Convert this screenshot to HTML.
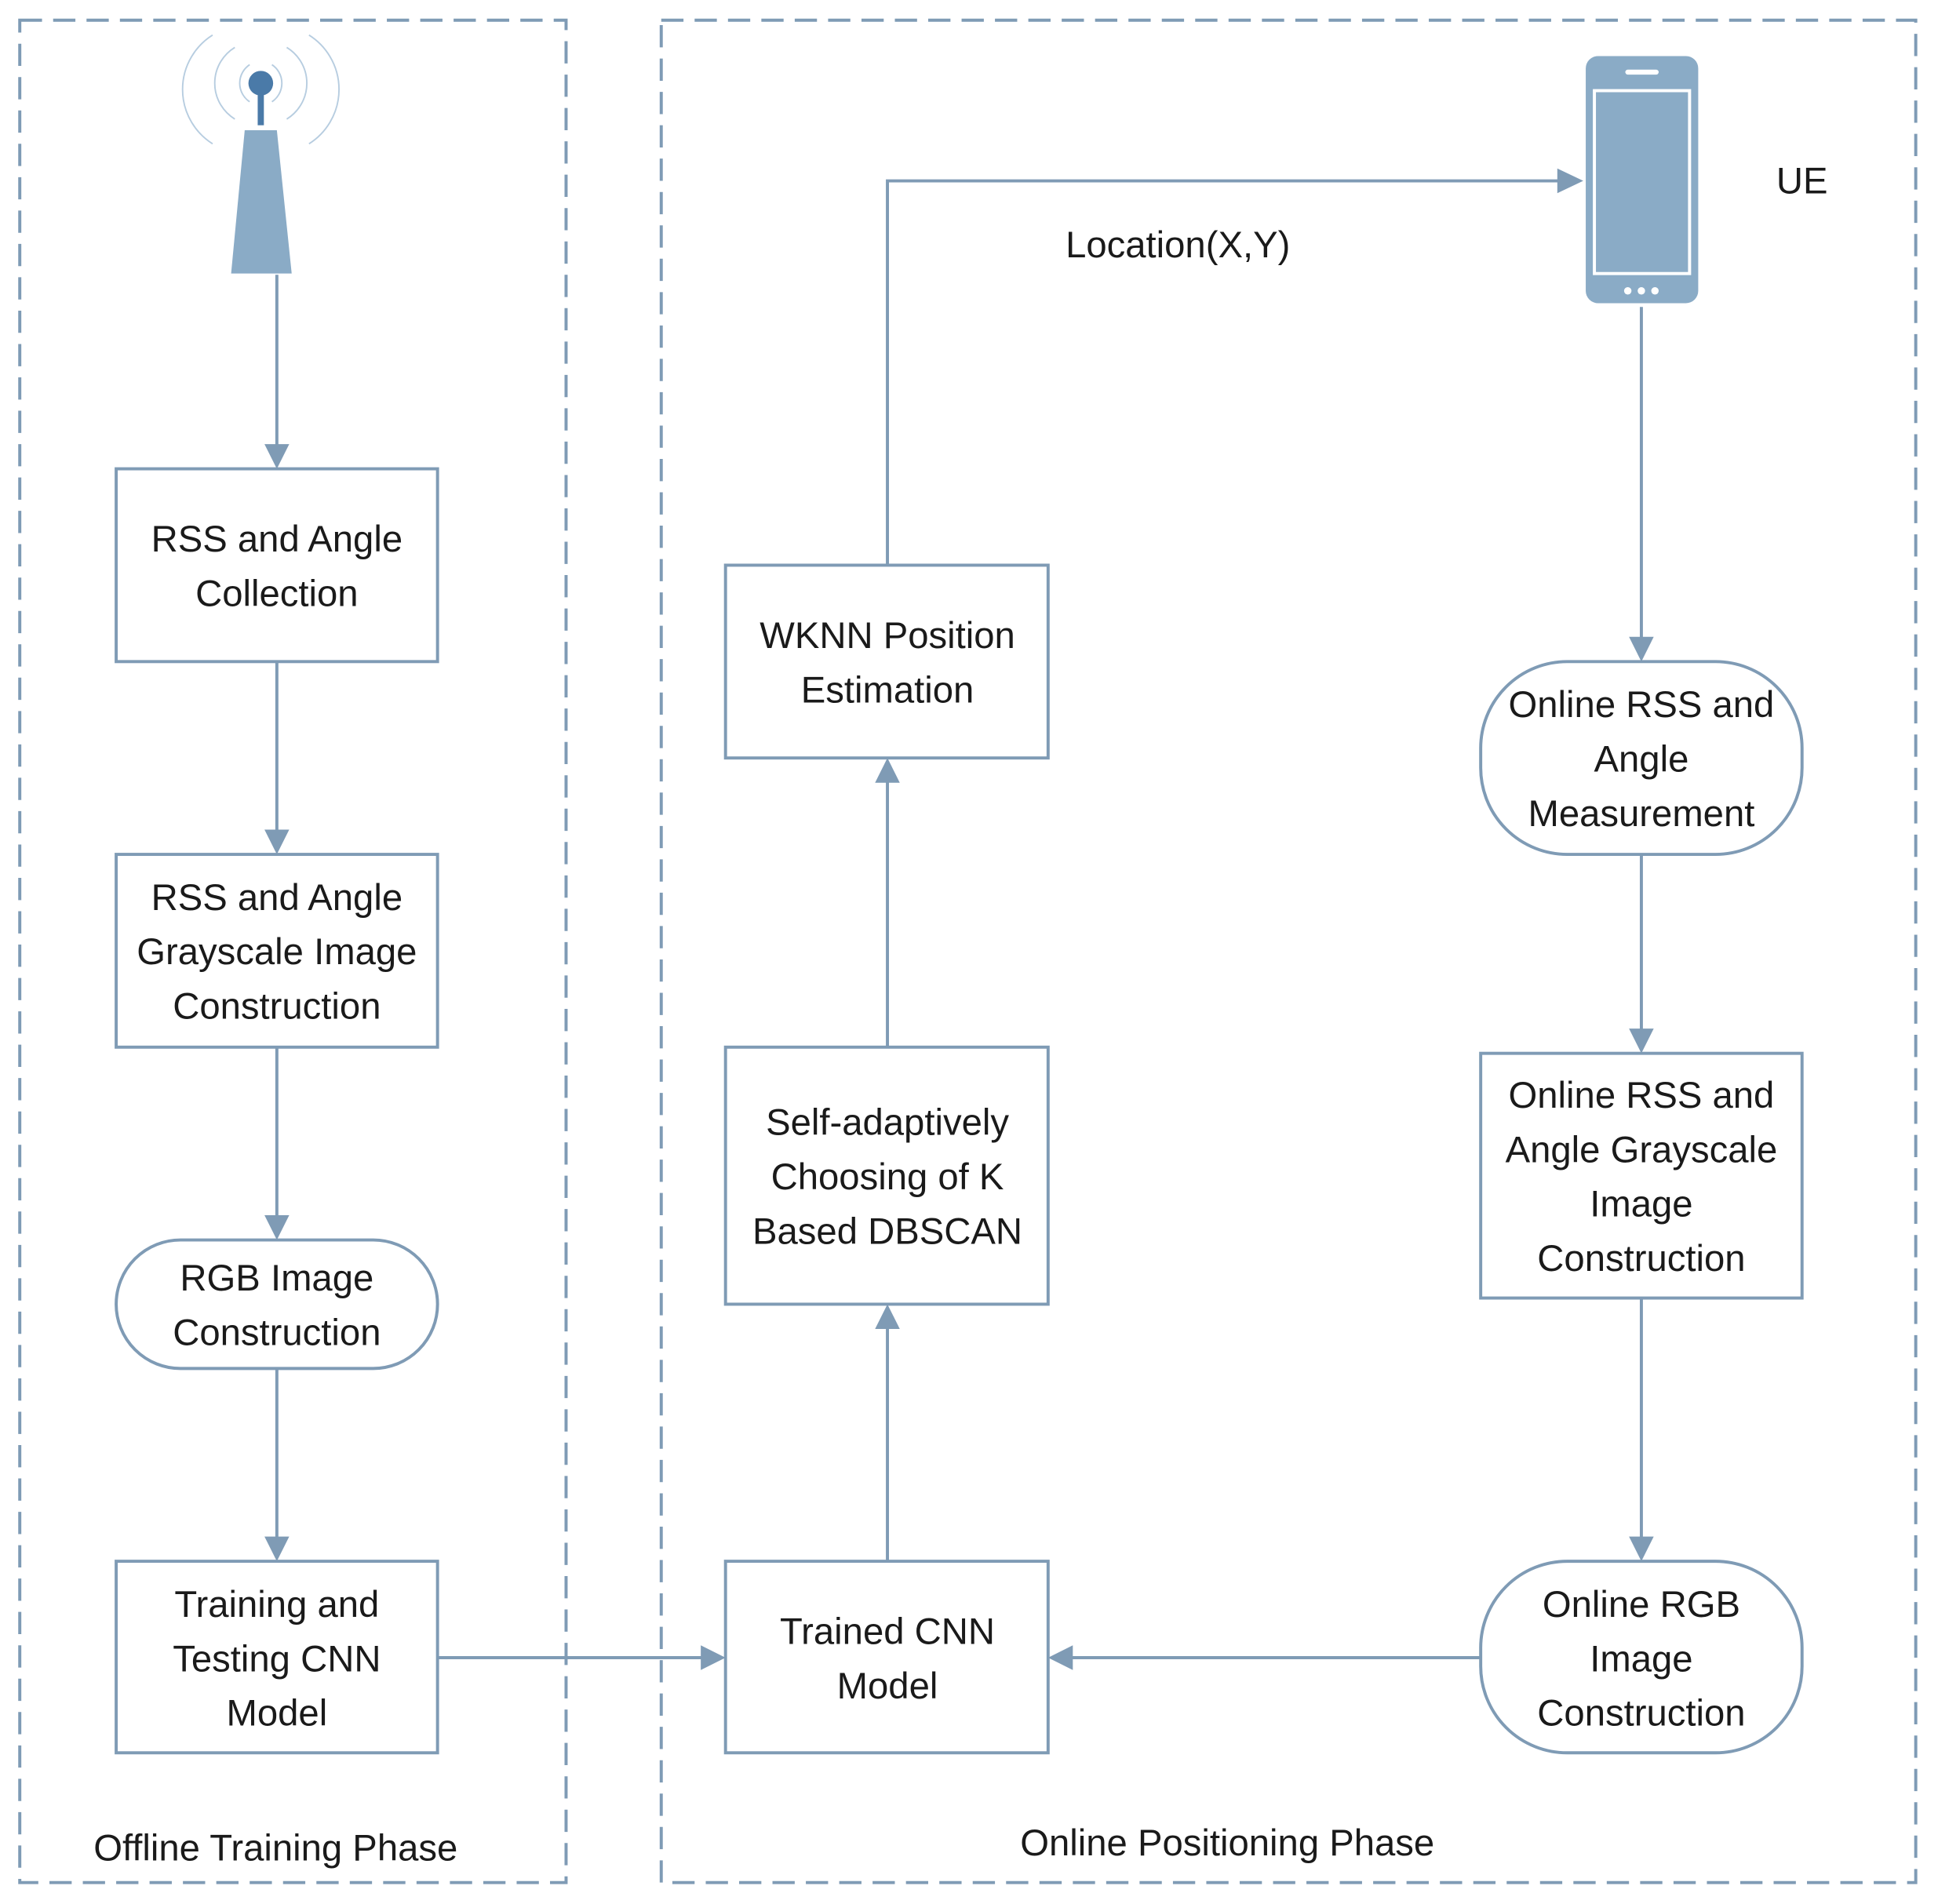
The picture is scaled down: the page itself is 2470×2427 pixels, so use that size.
<!DOCTYPE html>
<html><head><meta charset="utf-8"><style>
html,body{margin:0;padding:0;background:#fff;}
svg{display:block;}
text{font-family:"Liberation Sans",sans-serif;font-size:30px;fill:#1a1a1a;text-anchor:middle;}
</style></head><body>
<svg width="2470" height="2427" viewBox="0 0 1568 1540" xmlns="http://www.w3.org/2000/svg">
<defs>
<marker id="a" markerWidth="10" markerHeight="10" refX="9" refY="5" orient="auto" markerUnits="userSpaceOnUse" viewBox="0 0 10 10">
</marker>
</defs>
<g fill="none" stroke="#7f9bb5" stroke-width="2.5" stroke-dasharray="18 9">
<rect x="16" y="16" width="442" height="1507"/>
<rect x="535" y="16" width="1015" height="1507"/>
</g>
<!-- antenna -->
<g fill="none" stroke="#b7cde0" stroke-width="1.2">
<path d="M202 52 A18 18 0 0 0 202 82"/><path d="M220 52 A18 18 0 0 1 220 82"/>
<path d="M190 38 A34 34 0 0 0 190 96"/><path d="M232 38 A34 34 0 0 1 232 96"/>
<path d="M172 28 A52 52 0 0 0 172 116"/><path d="M250 28 A52 52 0 0 1 250 116"/>
</g>
<circle cx="211" cy="67" r="10" fill="#4a7aa8"/>
<rect x="208.5" y="70" width="5" height="31" fill="#4a7aa8"/>
<polygon points="198,105 224,105 236,221 187,221" fill="#8aabc6"/>
<!-- phone -->
<rect x="1283" y="45" width="91" height="200" rx="10" fill="#8aabc6"/>
<rect x="1290" y="73" width="77" height="148" fill="#8aabc6" stroke="#fff" stroke-width="2.5"/>
<rect x="1315" y="56" width="27" height="4" rx="2" fill="#fff"/>
<circle cx="1317" cy="235" r="3" fill="#fff"/><circle cx="1328" cy="235" r="3" fill="#fff"/><circle cx="1339" cy="235" r="3" fill="#fff"/>
<!-- shapes -->
<g fill="#fff" stroke="#7f9bb5" stroke-width="2.5">
<rect x="94" y="379" width="260" height="156"/>
<rect x="94" y="691" width="260" height="156"/>
<rect x="94" y="1003" width="260" height="104" rx="52"/>
<rect x="94" y="1263" width="260" height="155"/>
<rect x="587" y="1263" width="261" height="155"/>
<rect x="587" y="847" width="261" height="208"/>
<rect x="587" y="457" width="261" height="156"/>
<rect x="1198" y="535" width="260" height="156" rx="70"/>
<rect x="1198" y="852" width="260" height="198"/>
<rect x="1198" y="1263" width="260" height="155" rx="70"/>
</g>
<!-- lines -->
<g fill="none" stroke="#7f9bb5" stroke-width="2.5">
<path d="M224 222V362"/><path d="M224 535V674"/><path d="M224 847V986"/><path d="M224 1107V1246"/>
<path d="M354 1341H570"/><path d="M718 1262V1072"/><path d="M718 847V630"/>
<path d="M718 457V146H1263"/><path d="M1328 248V518"/><path d="M1328 691V835"/><path d="M1328 1050V1246"/>
<path d="M1198 1341H865"/>
</g>
<g fill="#7f9bb5">
<polygon points="214,359 234,359 224,379"/><polygon points="214,671 234,671 224,691"/>
<polygon points="214,983 234,983 224,1003"/><polygon points="214,1243 234,1243 224,1263"/>
<polygon points="567,1331 567,1351 587,1341"/><polygon points="708,1075 728,1075 718,1055"/>
<polygon points="708,633 728,633 718,613"/><polygon points="1260,136 1260,156 1281,146"/>
<polygon points="1318,515 1338,515 1328,535"/><polygon points="1318,832 1338,832 1328,852"/>
<polygon points="1318,1243 1338,1243 1328,1263"/><polygon points="868,1331 868,1351 848,1341"/>
</g>
<!-- text -->
<text x="224" y="446">RSS and Angle</text><text x="224" y="490">Collection</text>
<text x="224" y="736">RSS and Angle</text><text x="224" y="780">Grayscale Image</text><text x="224" y="824">Construction</text>
<text x="224" y="1044">RGB Image</text><text x="224" y="1088">Construction</text>
<text x="224" y="1308">Training and</text><text x="224" y="1352">Testing CNN</text><text x="224" y="1396">Model</text>
<text x="718" y="1330">Trained CNN</text><text x="718" y="1374">Model</text>
<text x="718" y="918">Self-adaptively</text><text x="718" y="962">Choosing of K</text><text x="718" y="1006">Based  DBSCAN</text>
<text x="718" y="524">WKNN Position</text><text x="718" y="568">Estimation</text>
<text x="953" y="208">Location(X,Y)</text>
<text x="1458" y="156">UE</text>
<text x="1328" y="580">Online RSS and</text><text x="1328" y="624">Angle</text><text x="1328" y="668">Measurement</text>
<text x="1328" y="896">Online RSS and</text><text x="1328" y="940">Angle Grayscale</text><text x="1328" y="984">Image</text><text x="1328" y="1028">Construction</text>
<text x="1328" y="1308">Online RGB</text><text x="1328" y="1352">Image</text><text x="1328" y="1396">Construction</text>
<text x="223" y="1505">Offline Training Phase</text>
<text x="993" y="1501">Online Positioning Phase</text>
</svg>
</body></html>
